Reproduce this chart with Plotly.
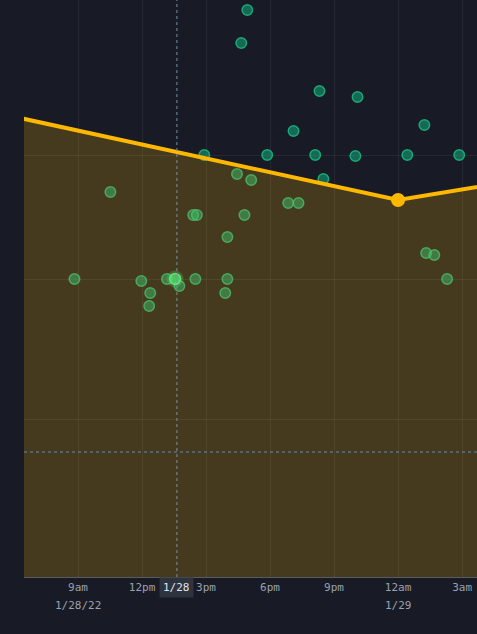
import plotly.graph_objects as go

# floor price line (one point per day)
floor_times = ["2022-01-28 00:00", "2022-01-29 00:00", "2022-01-30 00:00"]
floor_vals = [4.88, 3.77, 4.61]

# individual sales
sale_times = [
    "2022-01-28 16:56", "2022-01-28 16:39", "2022-01-28 20:19", "2022-01-28 22:06",
    "2022-01-28 19:06", "2022-01-29 01:14", "2022-01-28 14:55", "2022-01-28 17:52",
    "2022-01-28 20:07", "2022-01-28 22:00", "2022-01-29 00:26", "2022-01-29 02:52",
    "2022-01-28 20:30", "2022-01-28 10:31", "2022-01-28 16:27", "2022-01-28 17:07",
    "2022-01-28 14:24", "2022-01-28 14:34", "2022-01-28 16:48", "2022-01-28 18:51",
    "2022-01-28 19:20", "2022-01-28 16:00", "2022-01-28 08:50", "2022-01-28 11:58",
    "2022-01-28 12:23", "2022-01-28 12:20", "2022-01-28 13:10", "2022-01-28 13:45",
    "2022-01-28 14:30", "2022-01-28 16:00", "2022-01-28 15:54", "2022-01-29 01:19",
    "2022-01-29 01:42", "2022-01-29 02:18",
]
sale_vals = [
    5.67, 5.34, 4.86, 4.80,
    4.46, 4.52, 4.22, 4.22,
    4.22, 4.21, 4.22, 4.22,
    3.98, 3.85, 4.03, 3.97,
    3.62, 3.62, 3.62, 3.74,
    3.74, 3.40, 2.98, 2.96,
    2.84, 2.71, 2.98, 2.91,
    2.98, 2.98, 2.84, 3.24,
    3.22, 2.98,
]

# hovered sale
hover_time = "2022-01-28 13:33"
hover_val = 2.98

# crosshair position
cross_time = "2022-01-28 13:38"
cross_val = 1.25

tick_times = ["2022-01-28 09:00", "2022-01-28 12:00", "2022-01-28 15:00",
              "2022-01-28 18:00", "2022-01-28 21:00", "2022-01-29 00:00",
              "2022-01-29 03:00"]
tick_text = ["9am", "12pm", "3pm", "6pm", "9pm", "12am", "3am"]
date_labels = [("2022-01-28 09:00", "1/28/22"), ("2022-01-29 00:00", "1/29")]
y_grid = [1.58, 2.98, 4.22]

bg = "#181b26"
gold = "#ffb800"
font_mono = "DejaVu Sans Mono"

fig = go.Figure()

fig.add_trace(go.Scatter(
    x=sale_times, y=sale_vals, mode="markers",
    marker=dict(size=10.5, color="rgba(16,185,129,0.5)",
                line=dict(color="rgba(30,200,140,0.75)", width=1.5)),
    hoverinfo="skip", showlegend=False))

fig.add_trace(go.Scatter(
    x=[hover_time], y=[hover_val], mode="markers",
    marker=dict(size=17, color="rgba(40,230,140,0.25)", line=dict(width=0)),
    hoverinfo="skip", showlegend=False))
fig.add_trace(go.Scatter(
    x=[hover_time], y=[hover_val], mode="markers",
    marker=dict(size=11, color="rgba(40,235,140,0.75)",
                line=dict(color="rgba(60,245,150,0.9)", width=1.5)),
    hoverinfo="skip", showlegend=False))

# floor area drawn over the dots so it tints them
fig.add_trace(go.Scatter(
    x=floor_times, y=floor_vals, mode="lines", fill="tozeroy",
    fillcolor="rgba(255,184,0,0.2)", line=dict(color=gold, width=4),
    hoverinfo="skip", showlegend=False))
fig.add_trace(go.Scatter(
    x=[floor_times[1]], y=[floor_vals[1]], mode="markers",
    marker=dict(size=14, color=gold, line=dict(width=0)),
    hoverinfo="skip", showlegend=False))

# crosshair
fig.add_shape(type="line", xref="x", yref="paper", x0=cross_time, x1=cross_time,
              y0=0, y1=1, line=dict(color="#7a8ea3", width=1, dash="3px,3px"))
fig.add_shape(type="line", xref="paper", yref="y", x0=0, x1=1,
              y0=cross_val, y1=cross_val, line=dict(color="#5b8fb0", width=1, dash="3px,3px"))

for t, lab in date_labels:
    fig.add_annotation(x=t, y=0, xref="x", yref="paper", text=lab, showarrow=False,
                       yanchor="middle", yshift=-28,
                       font=dict(family=font_mono, size=11, color="#9ba1ad"))

fig.add_annotation(x=cross_time, y=0, xref="x", yref="paper", text="1/28",
                   showarrow=False, yanchor="top", yshift=0,
                   bgcolor="#2f333e", borderpad=3,
                   font=dict(family=font_mono, size=11, color="#dfe6f0"))

fig.update_layout(
    width=477, height=634,
    margin=dict(l=24, r=0, t=0, b=57),
    paper_bgcolor=bg, plot_bgcolor=bg,
    font=dict(family=font_mono, size=11, color="#9ba1ad"),
    xaxis=dict(range=["2022-01-28 06:28", "2022-01-29 03:42"],
               tickvals=tick_times, ticktext=tick_text,
               showgrid=True, gridcolor="rgba(255,255,255,0.06)",
               showline=True, linecolor="#585c66", linewidth=1,
               zeroline=False, ticks="", fixedrange=True),
    yaxis=dict(range=[0, 5.77], tickvals=y_grid, showticklabels=False,
               showgrid=True, gridcolor="rgba(255,255,255,0.06)",
               zeroline=False, ticks="", fixedrange=True),
    hovermode=False,
)

fig.write_html("out.html", config={"displayModeBar": False},
               post_script="document.body.style.margin='0';"
                           "document.body.style.background='" + bg + "';")
